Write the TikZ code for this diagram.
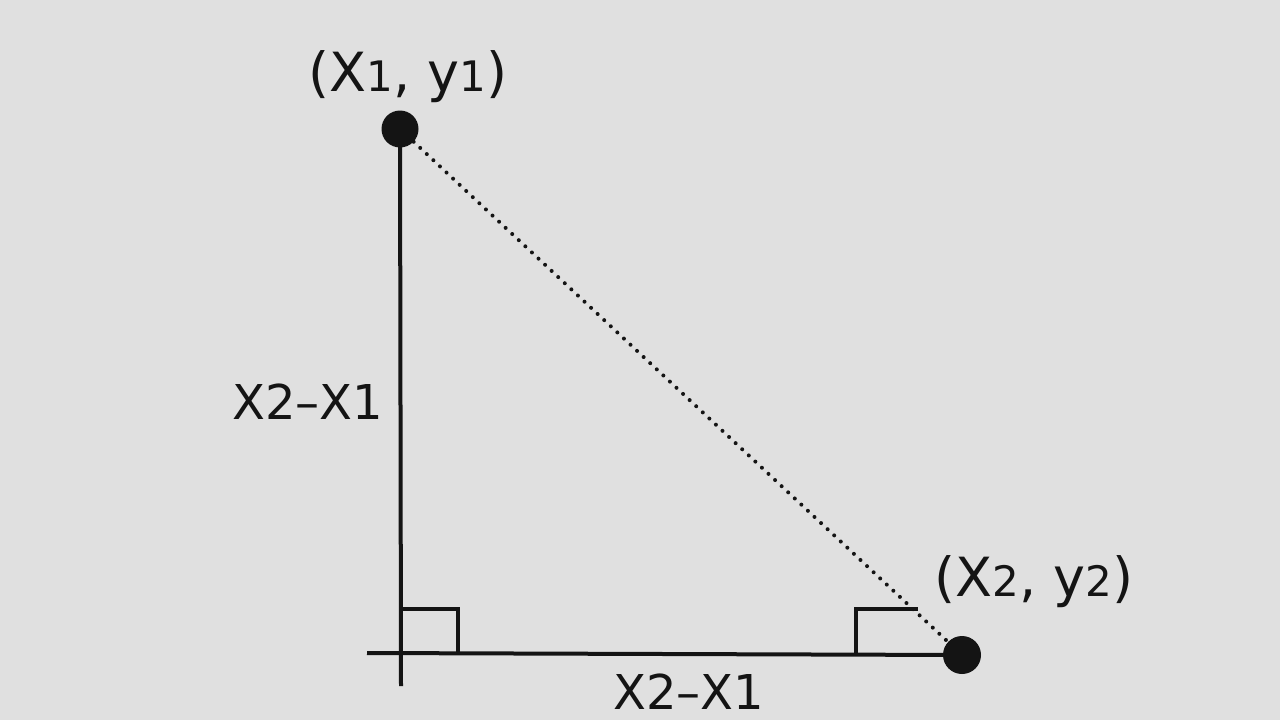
\documentclass[tikz,border=0pt]{standalone}
\usepackage{fontspec}
\setmainfont{DejaVu Sans}
\definecolor{bg}{RGB}{224,224,224}
\definecolor{ink}{RGB}{20,20,20}
\begin{document}
\begin{tikzpicture}[x=1pt,y=-1pt,
  dot/.style={circle,fill=ink,inner sep=0pt,minimum size=#1},
  axis/.style={draw=ink,line width=4pt},
  rightmark/.style={draw=ink,line width=3.5pt},
  dotline/.style={draw=ink,line width=4pt,line cap=round,dash pattern=on 0pt off 9pt},
  lbl/.style={inner sep=0pt,text=ink,font=\fontsize{48}{56}\selectfont},
  ptlbl/.style={inner sep=0pt,text=ink,font=\fontsize{54}{60}\selectfont}]
\fill[bg] (0,0) rectangle (1280,720);
\useasboundingbox (0,0) rectangle (1280,720);
\node[dot=37pt] (p1) at (400,129) {};
\node[dot=38pt] (p2) at (962,655) {};
\coordinate (ybot) at (401,686);
\coordinate (xleft) at (367,653);
\coordinate (lb1) at (401,609);
\coordinate (lb2) at (458,609);
\coordinate (lb3) at (458,653);
\coordinate (rb1) at (856,653);
\coordinate (rb2) at (856,609);
\coordinate (rb3) at (918,609);
\draw[axis] (p1.center) -- (ybot);
\draw[axis] (xleft) -- (p2.center);
\draw[rightmark] (lb1) -- (lb2) -- (lb3);
\draw[rightmark] (rb1) -- (rb2) -- (rb3);
\draw[dotline] (p1) -- (p2);
\node[ptlbl] (t1) at (408,77) {(X{\fontsize{42}{44}\selectfont 1}, y{\fontsize{42}{44}\selectfont 1})};
\node[ptlbl] (t2) at (1034,582) {(X{\fontsize{42}{44}\selectfont 2}, y{\fontsize{42}{44}\selectfont 2})};
\node[lbl] (lv) at (308,402) {X2–X1};
\node[lbl] (lh) at (689,692) {X2–X1};
\end{tikzpicture}
\end{document}
